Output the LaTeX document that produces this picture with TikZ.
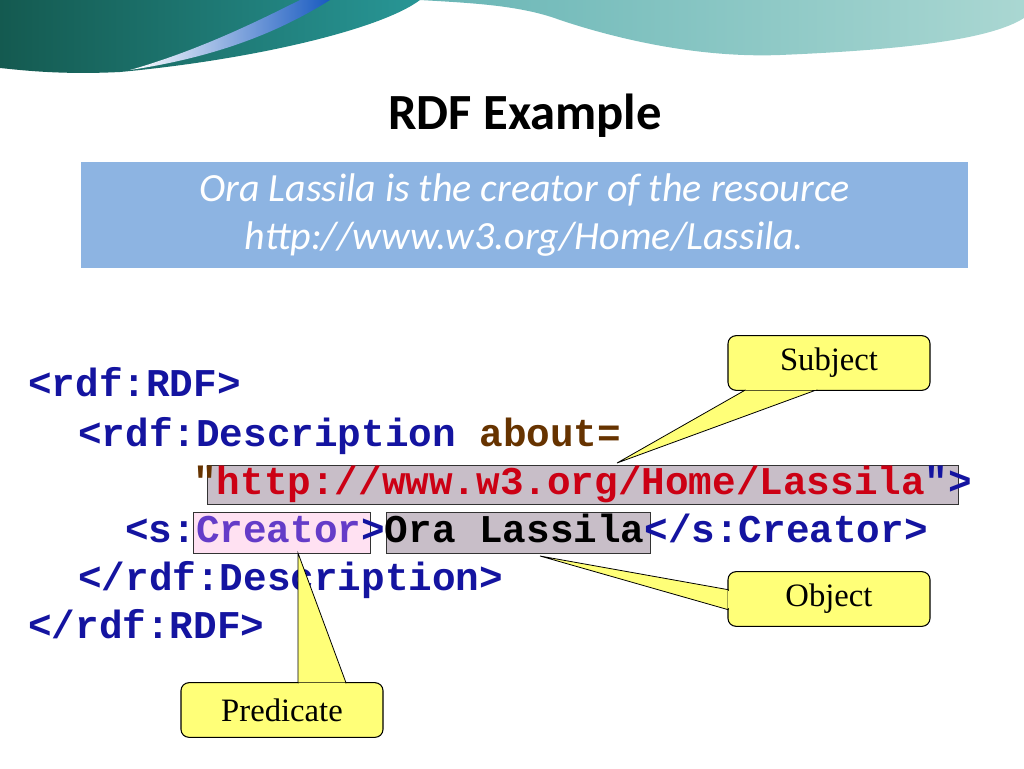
\documentclass[tikz,border=0pt]{standalone}
\usepackage{fontspec}
\setmainfont{Carlito}
\newfontfamily\codefont{Liberation Mono}
\newfontfamily\serifc{Liberation Serif}
\definecolor{tagblue}{RGB}{20,20,160}
\definecolor{abrown}{RGB}{102,51,0}
\definecolor{urlred}{RGB}{204,0,20}
\definecolor{crpurple}{RGB}{100,60,200}
\definecolor{hlgray}{RGB}{200,190,200}
\definecolor{hlpink}{RGB}{255,225,242}
\definecolor{bannerblue}{RGB}{141,180,226}
\definecolor{callyel}{RGB}{255,255,120}
\definecolor{tealdark}{RGB}{20,90,80}
\definecolor{teal}{RGB}{40,150,150}
\definecolor{tealpale}{RGB}{170,215,210}
\begin{document}
\begin{tikzpicture}[x=0.75pt,y=-0.75pt,
  code/.style={anchor=base west,inner sep=0pt,font=\codefont\bfseries\fontsize{29.5}{36}\selectfont},
  callout/.style={draw=black,fill=callyel,rounded corners=6pt,line width=0.8pt,minimum width=151.5pt,minimum height=41pt,font=\serifc\fontsize{24.5}{28}\selectfont},
  ptr/.style={draw=black,fill=callyel,line width=0.6pt},
  hl/.style={draw=black!80,line width=0.6pt}]
\useasboundingbox (0,0) rectangle (1024,768);
% top wave decoration
\shade[left color=tealdark,right color=teal] (0,0) -- (420,0) .. controls (380,30) and (250,60) .. (120,72) .. controls (60,75) and (20,70) .. (0,68) -- cycle;
\shade[left color=teal!70!white,right color=tealpale] (420,0) -- (1024,0) -- (1024,18) .. controls (990,40) and (900,50) .. (780,55) .. controls (700,58) and (620,40) .. (560,20) .. controls (520,5) and (470,3) .. (420,0) -- cycle;
\shade[left color=white,right color=teal!60!blue] (130,70) .. controls (200,50) and (260,20) .. (300,0) -- (330,0) .. controls (290,25) and (230,55) .. (130,70) -- cycle;
\node[inner sep=0pt,font=\bfseries\fontsize{38}{44}\selectfont] (title) at (525,116) {RDF Example};
\node[fill=bannerblue,minimum width=665pt,minimum height=79.5pt,inner sep=0pt] (banner) at (524.5,215) {};
\node[text=white,align=center,font=\itshape\fontsize{30}{36}\selectfont] (btext) at (524.5,215) {Ora Lassila is the creator of the resource\\http://www.w3.org/Home/Lassila.};
% highlight boxes
\draw[hl,fill=hlgray] (207,465) rectangle (958,504);
\draw[hl,fill=hlpink] (193,512) rectangle (370,553);
\draw[hl,fill=hlgray] (386,512) rectangle (650,553);
% code
\node[code,text=tagblue] (l1) at (28,396) {<rdf:RDF>};
\node[code,text=tagblue] (l2) at (78,446) {<rdf:Description \textcolor{abrown}{about=}};
\node[code,text=tagblue] (l3) at (193,494) {\textcolor{abrown}{"}\textcolor{urlred}{http://www.w3.org/Home/Lassila}">};
\node[code,text=tagblue] (l4) at (125,542) {<s:\textcolor{crpurple}{Creator}>\textcolor{black}{Ora Lassila}</s:Creator>};
\node[code,text=tagblue] (l5) at (78,590) {</rdf:Description>};
\node[code,text=tagblue] (l6) at (28,638) {</rdf:RDF>};
% callouts
\node[callout] (subj) at (829,363) {Subject};
\node[callout] (obj) at (829,599) {Object};
\node[callout] (pred) at (282,710) {Predicate};
\coordinate (st) at (617,463);
\coordinate (ot) at (540,556);
\coordinate (pt) at (298,553);
\path[ptr] (st) -- ([xshift=-63pt,yshift=0.5pt]subj.south) -- ([xshift=-10pt,yshift=0.5pt]subj.south) -- cycle;
\fill[callyel] ([xshift=-62pt,yshift=0.6pt]subj.south) rectangle ++(52pt,3pt);
\path[ptr] (ot) -- ([yshift=7pt,xshift=0.5pt]obj.west) -- ([yshift=-8pt,xshift=0.5pt]obj.west) -- cycle;
\fill[callyel] ([yshift=6pt,xshift=0.6pt]obj.west) rectangle ++(3pt,-13pt);
\path[ptr] (pt) -- ([xshift=12pt,yshift=-0.5pt]pred.north) -- ([xshift=48pt,yshift=-0.5pt]pred.north) -- cycle;
\fill[callyel] ([xshift=13pt,yshift=-0.6pt]pred.north) rectangle ++(34pt,-3pt);
\end{tikzpicture}
\end{document}
